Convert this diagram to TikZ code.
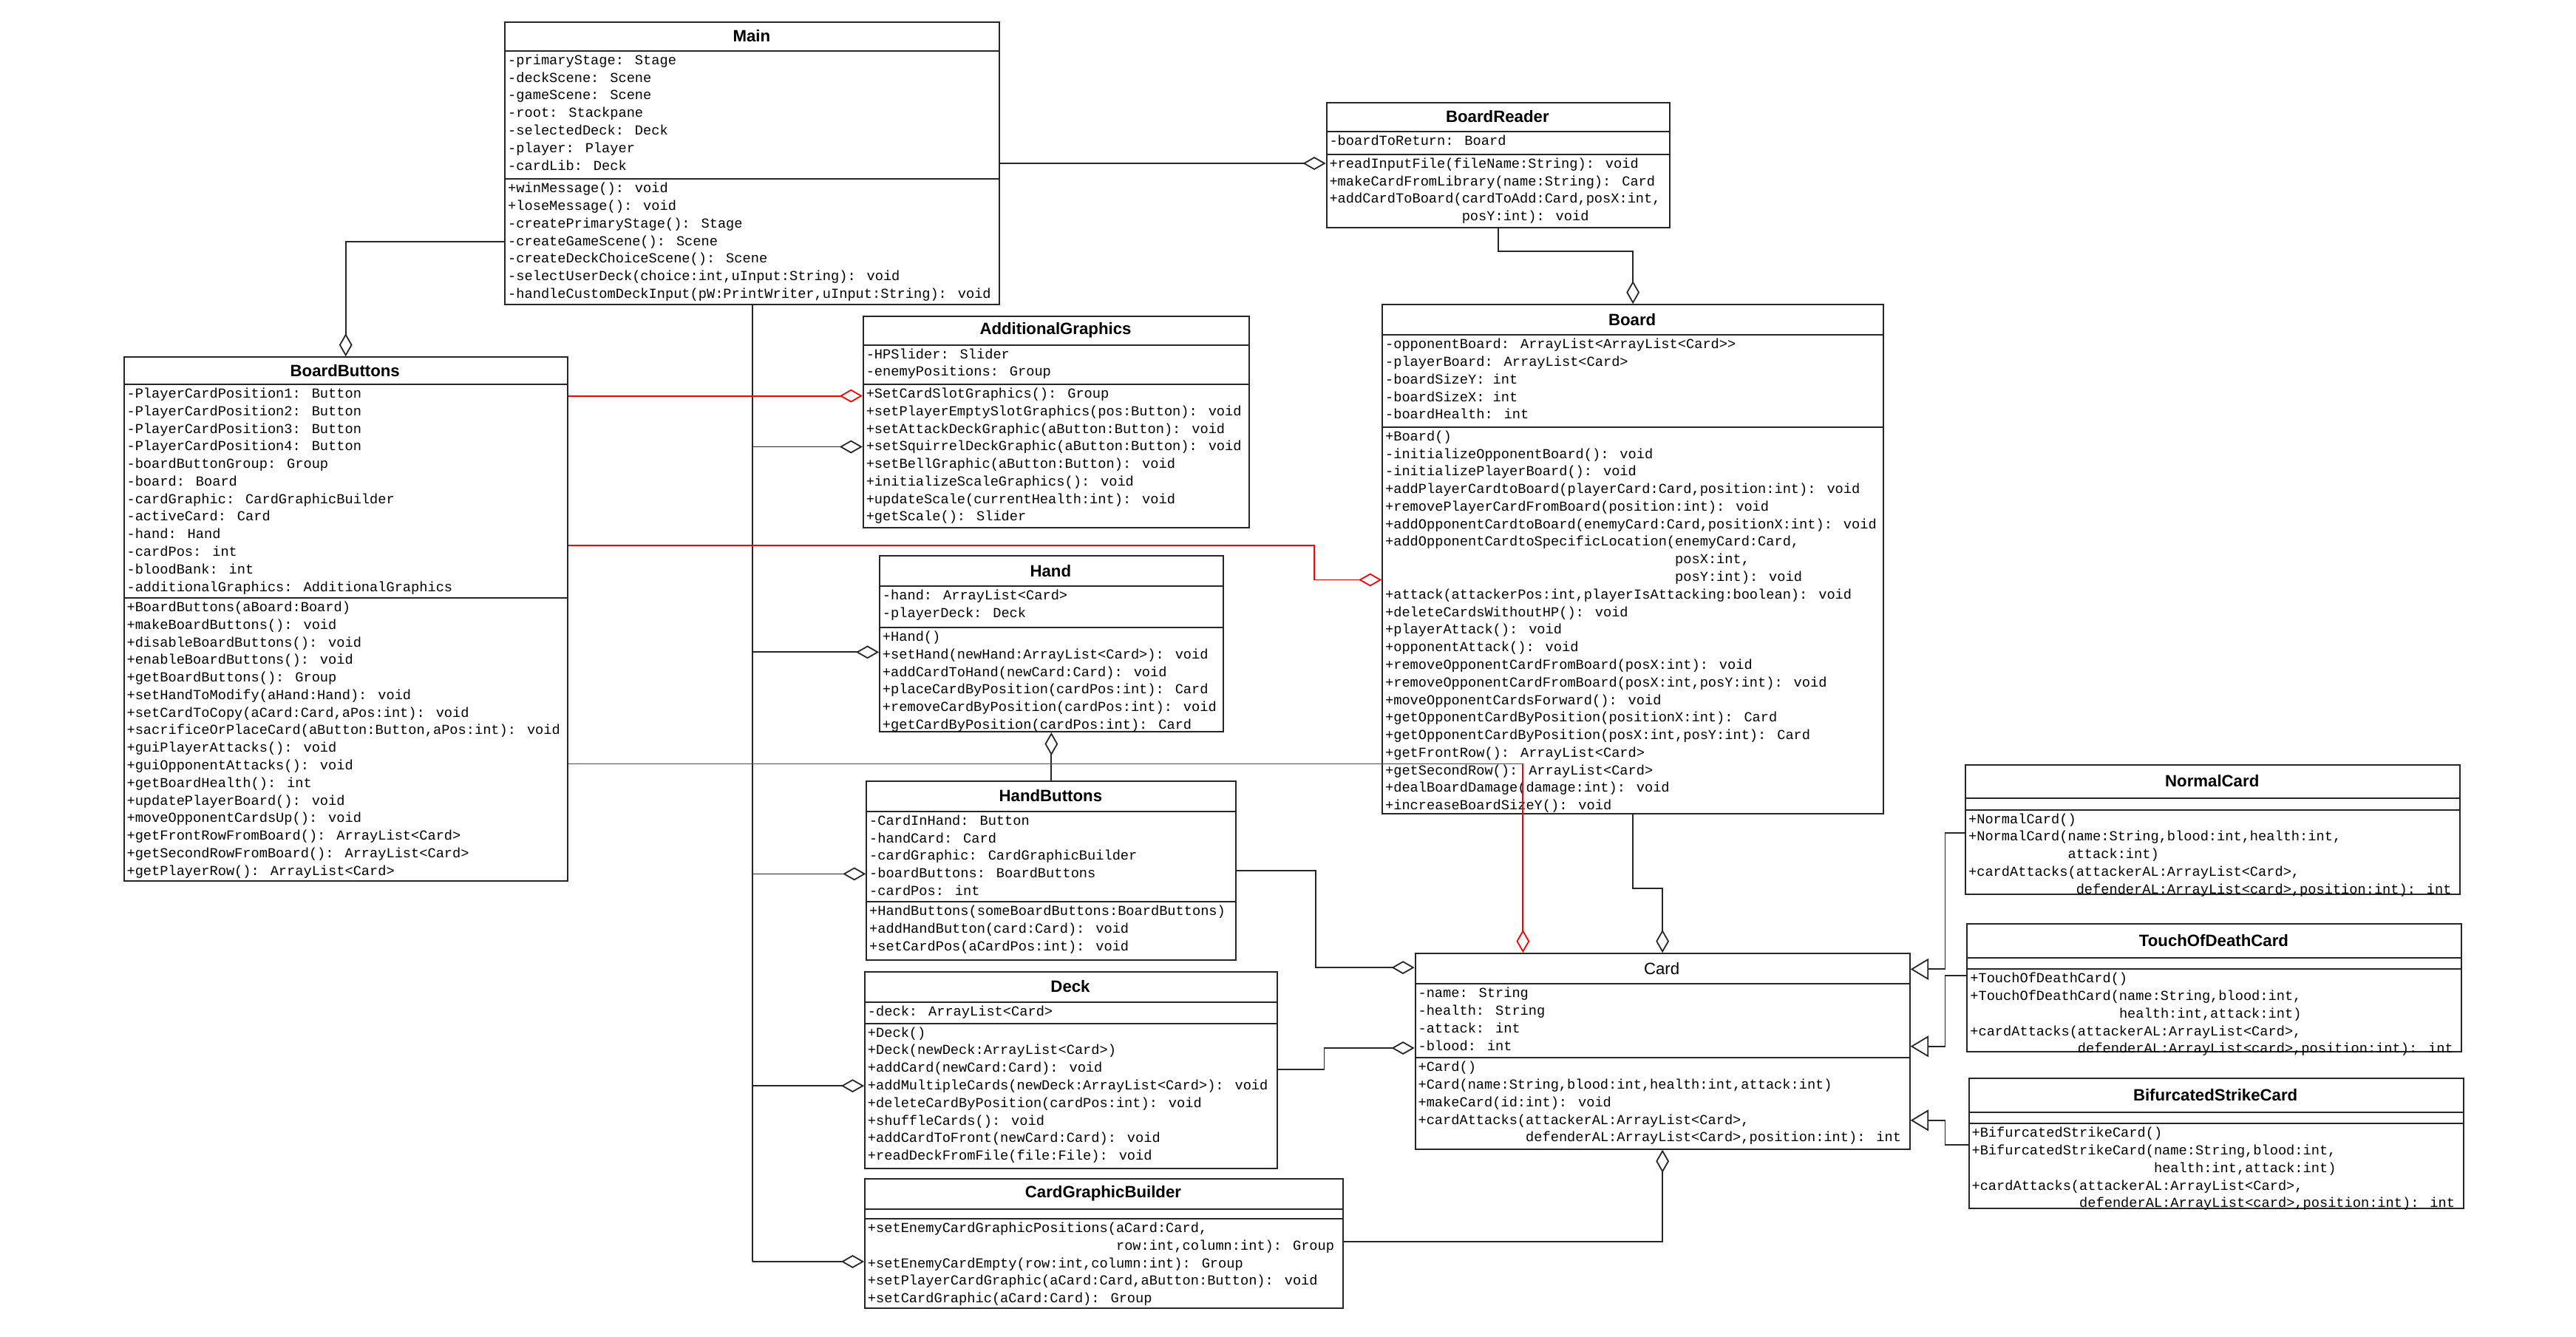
\documentclass[tikz,border=0pt]{standalone}
\usepackage{fontspec}
\setmainfont{Liberation Sans}
\newfontfamily\monof{Liberation Mono}
\usetikzlibrary{arrows.meta}
\tikzset{
  box/.style={draw=black!85, line width=0.9pt, rectangle, inner sep=0pt, fill=white},
  sep/.style={draw=black!85, line width=0.9pt},
  ttl/.style={font=\fontsize{10}{12}\selectfont\bfseries, inner sep=0pt},
  txt/.style={font=\monof\fontsize{8.4}{10.7}\selectfont, align=left, inner sep=0pt, anchor=north west},
  conn/.style={draw=black!85, line width=0.8pt},
  agg/.style={conn, -{Diamond[fill=white,length=14pt,width=8pt]}},
  ragg/.style={draw=red, line width=0.8pt, -{Diamond[fill=white,length=14pt,width=8pt]}},
  rline/.style={draw=red, line width=0.8pt},
  inh/.style={conn, -{Triangle[fill=white,length=11pt,width=13pt]}}
}
\newcommand\umlcls[8]{%
  \node[box, minimum width={#4-#2}, minimum height={#5-#3}, anchor=north west] (#1) at (#2,#3) {};
  \draw[sep] (#2,#6) -- (#4,#6);
  \draw[sep] (#2,#7) -- (#4,#7);
  \node[ttl] (#1-t) at ({(#2+#4)/2},{(#3+#6)/2}) {#8};
}
\begin{document}
\begin{tikzpicture}[x=1pt,y=-1pt]
\useasboundingbox[fill=white] (0,0) rectangle (1568,813.6);

% ---------- classes ----------
\umlcls{main}{307}{13}{608}{185}{31}{109}{Main}
\node[txt] (main-a) at (309,33) {-primaryStage: Stage\\-deckScene: Scene\\-gameScene: Scene\\-root: Stackpane\\-selectedDeck: Deck\\-player: Player\\-cardLib: Deck};
\node[txt] (main-m) at (309,111) {+winMessage(): void\\+loseMessage(): void\\-createPrimaryStage(): Stage\\-createGameScene(): Scene\\-createDeckChoiceScene(): Scene\\-selectUserDeck(choice:int,uInput:String): void\\-handleCustomDeckInput(pW:PrintWriter,uInput:String): void};

\umlcls{br}{807}{62}{1016}{138}{80}{94}{BoardReader}
\node[txt] (br-a) at (809,82) {-boardToReturn: Board};
\node[txt] (br-m) at (809,96) {+readInputFile(fileName:String): void\\+makeCardFromLibrary(name:String): Card\\+addCardToBoard(cardToAdd:Card,posX:int,\\\phantom{+addCardToBoard(}posY:int): void};

\umlcls{board}{841}{185}{1146}{495}{204}{260}{Board}
\node[txt] (board-a) at (843,206) {-opponentBoard: ArrayList<ArrayList<Card>{}>\\-playerBoard: ArrayList<Card>\\-boardSizeY: int\\-boardSizeX: int\\-boardHealth: int};
\node[txt] (board-m) at (843,262) {+Board()\\-initializeOpponentBoard(): void\\-initializePlayerBoard(): void\\+addPlayerCardtoBoard(playerCard:Card,position:int): void\\+removePlayerCardFromBoard(position:int): void\\+addOpponentCardtoBoard(enemyCard:Card,positionX:int): void\\+addOpponentCardtoSpecificLocation(enemyCard:Card,\\\phantom{+addOpponentCardtoSpecificLocation(}posX:int,\\\phantom{+addOpponentCardtoSpecificLocation(}posY:int): void\\+attack(attackerPos:int,playerIsAttacking:boolean): void\\+deleteCardsWithoutHP(): void\\+playerAttack(): void\\+opponentAttack(): void\\+removeOpponentCardFromBoard(posX:int): void\\+removeOpponentCardFromBoard(posX:int,posY:int): void\\+moveOpponentCardsForward(): void\\+getOpponentCardByPosition(positionX:int): Card\\+getOpponentCardByPosition(posX:int,posY:int): Card\\+getFrontRow(): ArrayList<Card>\\+getSecondRow(): ArrayList<Card>\\+dealBoardDamage(damage:int): void\\+increaseBoardSizeY(): void};

\umlcls{bb}{75}{217}{345}{536}{234}{364}{BoardButtons}
\node[txt] (bb-a) at (77,236) {-PlayerCardPosition1: Button\\-PlayerCardPosition2: Button\\-PlayerCardPosition3: Button\\-PlayerCardPosition4: Button\\-boardButtonGroup: Group\\-board: Board\\-cardGraphic: CardGraphicBuilder\\-activeCard: Card\\-hand: Hand\\-cardPos: int\\-bloodBank: int\\-additionalGraphics: AdditionalGraphics};
\node[txt] (bb-m) at (77,366) {+BoardButtons(aBoard:Board)\\+makeBoardButtons(): void\\+disableBoardButtons(): void\\+enableBoardButtons(): void\\+getBoardButtons(): Group\\+setHandToModify(aHand:Hand): void\\+setCardToCopy(aCard:Card,aPos:int): void\\+sacrificeOrPlaceCard(aButton:Button,aPos:int): void\\+guiPlayerAttacks(): void\\+guiOpponentAttacks(): void\\+getBoardHealth(): int\\+updatePlayerBoard(): void\\+moveOpponentCardsUp(): void\\+getFrontRowFromBoard(): ArrayList<Card>\\+getSecondRowFromBoard(): ArrayList<Card>\\+getPlayerRow(): ArrayList<Card>};

\umlcls{ag}{525}{192}{760}{321}{210}{234}{AdditionalGraphics}
\node[txt] (ag-a) at (527,212) {-HPSlider: Slider\\-enemyPositions: Group};
\node[txt] (ag-m) at (527,236) {+SetCardSlotGraphics(): Group\\+setPlayerEmptySlotGraphics(pos:Button): void\\+setAttackDeckGraphic(aButton:Button): void\\+setSquirrelDeckGraphic(aButton:Button): void\\+setBellGraphic(aButton:Button): void\\+initializeScaleGraphics(): void\\+updateScale(currentHealth:int): void\\+getScale(): Slider};

\umlcls{hand}{535}{338}{744}{445}{357}{382}{Hand}
\node[txt] (hand-a) at (537,359) {-hand: ArrayList<Card>\\-playerDeck: Deck};
\node[txt] (hand-m) at (537,384) {+Hand()\\+setHand(newHand:ArrayList<Card>): void\\+addCardToHand(newCard:Card): void\\+placeCardByPosition(cardPos:int): Card\\+removeCardByPosition(cardPos:int): void\\+getCardByPosition(cardPos:int): Card};

\umlcls{hb}{527}{475}{752}{584}{494}{549}{HandButtons}
\node[txt] (hb-a) at (529,496) {-CardInHand: Button\\-handCard: Card\\-cardGraphic: CardGraphicBuilder\\-boardButtons: BoardButtons\\-cardPos: int};
\node[txt] (hb-m) at (529,551) {+HandButtons(someBoardButtons:BoardButtons)\\+addHandButton(card:Card): void\\+setCardPos(aCardPos:int): void};

\umlcls{deck}{526}{591}{777}{711}{610}{623}{Deck}
\node[txt] (deck-a) at (528,612) {-deck: ArrayList<Card>};
\node[txt] (deck-m) at (528,625) {+Deck()\\+Deck(newDeck:ArrayList<Card>)\\+addCard(newCard:Card): void\\+addMultipleCards(newDeck:ArrayList<Card>): void\\+deleteCardByPosition(cardPos:int): void\\+shuffleCards(): void\\+addCardToFront(newCard:Card): void\\+readDeckFromFile(file:File): void};

\umlcls{cgb}{526}{717}{817}{796}{736}{742}{CardGraphicBuilder}
\node[txt] (cgb-m) at (528,744) {+setEnemyCardGraphicPositions(aCard:Card,\\\phantom{+setEnemyCardGraphicPositions(}row:int,column:int): Group\\+setEnemyCardEmpty(row:int,column:int): Group\\+setPlayerCardGraphic(aCard:Card,aButton:Button): void\\+setCardGraphic(aCard:Card): Group};

\umlcls{card}{861}{580}{1162}{699}{599}{644}{\mdseries Card}
\node[txt] (card-a) at (863,601) {-name: String\\-health: String\\-attack: int\\-blood: int};
\node[txt] (card-m) at (863,646) {+Card()\\+Card(name:String,blood:int,health:int,attack:int)\\+makeCard(id:int): void\\+cardAttacks(attackerAL:ArrayList<Card>,\\\phantom{+cardAttacks(}defenderAL:ArrayList<Card>,position:int): int};

\umlcls{nc}{1196}{465}{1497}{544}{486}{493}{NormalCard}
\node[txt] (nc-m) at (1198,495) {+NormalCard()\\+NormalCard(name:String,blood:int,health:int,\\\phantom{+NormalCard(}attack:int)\\+cardAttacks(attackerAL:ArrayList<Card>,\\\phantom{+cardAttacks(}defenderAL:ArrayList<card>,position:int): int};

\umlcls{tod}{1197}{562}{1498}{640}{583}{590}{TouchOfDeathCard}
\node[txt] (tod-m) at (1199,592) {+TouchOfDeathCard()\\+TouchOfDeathCard(name:String,blood:int,\\\phantom{+TouchOfDeathCard(}health:int,attack:int)\\+cardAttacks(attackerAL:ArrayList<Card>,\\\phantom{+cardAttacks(}defenderAL:ArrayList<card>,position:int): int};

\umlcls{bsc}{1198}{656}{1499}{735}{677}{684}{BifurcatedStrikeCard}
\node[txt] (bsc-m) at (1200,686) {+BifurcatedStrikeCard()\\+BifurcatedStrikeCard(name:String,blood:int,\\\phantom{+BifurcatedStrikeCard(}health:int,attack:int)\\+cardAttacks(attackerAL:ArrayList<Card>,\\\phantom{+cardAttacks(}defenderAL:ArrayList<card>,position:int): int};

% ---------- connectors ----------
\draw[agg] (main.east) -- (main.east -| br.west);
\draw[agg] (main.west |- 0,147) -| (bb.north);
\draw[conn] (main.south) -- (main.south |- 0,768);
\draw[agg] (main.south |- 0,272) -- (ag.west |- 0,272);
\draw[agg] (main.south |- 0,397) -- (hand.west |- 0,397);
\draw[agg] (main.south |- 0,532) -- (hb.west |- 0,532);
\draw[agg] (main.south |- 0,661) -- (deck.west |- 0,661);
\draw[agg] (main.south |- 0,768) -- (cgb.west |- 0,768);
\draw[agg] (br.south) -- ++(0,14) -| (board.north);
\draw[agg] (board.south) -- ++(0,45) -| (card.north);
\draw[agg] (hb.north -| hand.south) -- (hand.south);
\draw[agg] (hb.east |- 0,530) -- (801,530) |- (card.west |- 0,589);
\draw[agg] (deck.east |- 0,651) -- (806,651) |- (card.west |- 0,638);
\draw[agg] (cgb.east |- 0,756) -| (card.south);
\draw[ragg] (bb.east |- 0,241) -- (ag.west |- 0,241);
\draw[ragg] (bb.east |- 0,332) -- (800,332) -- (800,353) -- (board.west |- 0,353);
\draw[ragg] (bb.east |- 0,465) -| (card.north -| 927,0);
\draw[inh] (nc.west |- 0,507) -- (1184,507) |- (card.east |- 0,590);
\draw[inh] (tod.west |- 0,594) -- (1184,594) |- (card.east |- 0,637);
\draw[inh] (bsc.west |- 0,697) -- (1184,697) |- (card.east |- 0,682);
\end{tikzpicture}
\end{document}
